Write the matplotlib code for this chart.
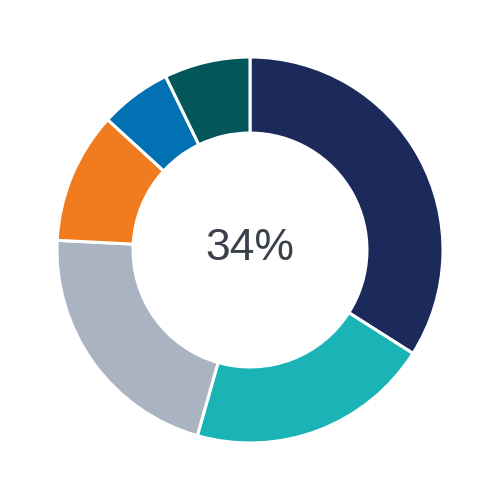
import matplotlib
matplotlib.use("Agg")
import matplotlib.pyplot as plt

labels = ["A", "B", "C", "D", "E", "F"]
values = [34, 20.4, 21.4, 11, 6, 7.2]
colors = ["#1b2a5a", "#1ab4b7", "#a9b3c2", "#f17c20", "#0271b4", "#03575a"]
center_text = "34%"

fig = plt.figure(figsize=(5, 5), dpi=100)
ax = fig.add_axes([0, 0, 1, 1])
ax.pie(values, colors=colors, startangle=90, counterclock=False,
       radius=1.0, wedgeprops=dict(width=0.394, edgecolor="white", linewidth=2.2))
ax.text(0, 0.01, center_text, ha="center", va="center", fontsize=32,
        color="#3b404b", family="Liberation Sans")
lim = 250 / 193
ax.set_xlim(-lim, lim)
ax.set_ylim(-lim, lim)
ax.set_aspect("equal")
ax.axis("off")
fig.savefig("out.png", dpi=100, facecolor="white")
